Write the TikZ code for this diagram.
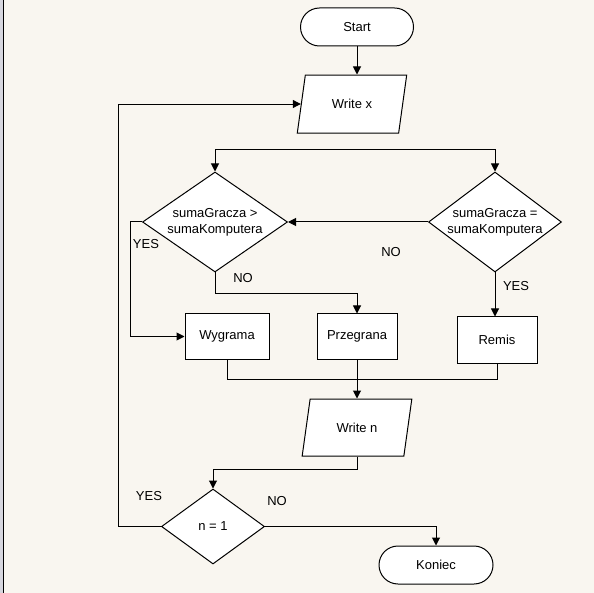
\documentclass[tikz,border=0pt]{standalone}
\usepackage{fontspec}
\setmainfont{Liberation Sans}
\usetikzlibrary{arrows.meta,positioning,calc,shapes.geometric}
\definecolor{paper}{RGB}{249,246,240}
\definecolor{chrome}{RGB}{214,214,222}

\begin{document}
\begin{tikzpicture}[
        x=1pt, y=1pt,
        font=\fontsize{13}{16}\selectfont,
        term/.style={draw, fill=white, line width=1pt, rounded corners=19pt, minimum width=113pt, minimum height=38pt},
        io/.style={draw, fill=white, line width=1pt, trapezium, trapezium left angle=76, trapezium right angle=104, trapezium stretches=true, minimum width=110pt, minimum height=58pt},
        box/.style={draw, fill=white, line width=1pt, minimum width=80pt, minimum height=45pt},
        cond/.style={draw, fill=white, line width=1pt, diamond, align=center, inner xsep=-8pt, inner ysep=0pt, minimum height=100pt},
        lbl/.style={inner sep=0pt},
        line/.style={-{Triangle[width=8pt,length=8pt]}, line width=1pt},
        wire/.style={line width=1pt},
    ]
        \useasboundingbox[fill=paper] (0,0) rectangle (594,-593);
        % window edge on the left
        \fill[chrome] (0,0) rectangle (3,-593);
        \draw[wire] (3.5,0) -- (3.5,-593);

        % --- nodes ---
        \node[term] (start) at (357,-27) {Start};
        \node[io, below=28pt of start, xshift=-5pt] (writex) {Write x};

        \node[cond, aspect=1.45, minimum width=145pt] (cmpL) at (215,-222) {sumaGracza >\\sumaKomputera};
        \node[cond, aspect=1.33, minimum width=133pt, right=140pt of cmpL] (cmpR) {sumaGracza =\\sumaKomputera};

        \node[box, minimum width=84pt, below=41pt of cmpL, xshift=12pt] (wygr) {Wygrama};
        \node[box, right=47pt of wygr] (przeg) {Przegrana};
        \node[box, minimum height=46pt, below=44pt of cmpR, xshift=2pt] (remis) {Remis};

        \node[io, minimum height=57pt, below=39pt of przeg] (writen) {Write n};
        \node[cond, aspect=1.37, minimum width=103pt, minimum height=75pt, below=32pt of writen, xshift=-144pt] (check) {n = 1};
        \node[term, minimum width=114pt] (koniec) at (436,-565) {Koniec};

        % --- wiring ---
        \draw[line] (start) -- (start |- writex.north);

        \coordinate[below=16pt of writex.south] (split);
        \draw[line] (split) -| (cmpL.north);
        \draw[line] (split) -| (cmpR.north);

        \draw[line] (cmpR.west) -- (cmpL.east);
        \draw[line] (cmpR.south) -- (cmpR.south |- remis.north);
        \draw[line] (cmpL.west) -- ++(-12pt,0) |- (wygr.west);
        \draw[line] (cmpL.south) -- ++(0,-21pt) -| (przeg.north);

        % three results join above Write n
        \coordinate (merge) at ($(przeg.south)!0.5!(writen.north)$);
        \draw[wire] (wygr.south) |- (merge);
        \draw[wire] (remis.south) |- (merge);
        \draw[line] (przeg.south) -- (writen.north);

        \draw[line] (writen.south) -- ++(0,-13pt) -| (check.north);
        \draw[line] (check.west) -- ++(-43pt,0) |- (writex.west);
        \draw[line] (check.east) -| (koniec.north);

        % --- branch labels ---
        \node[lbl] at (146,-244) {YES};
        \node[lbl] at (243,-278) {NO};
        \node[lbl] at (391,-252) {NO};
        \node[lbl] at (516,-286) {YES};
        \node[lbl] at (149,-496) {YES};
        \node[lbl] at (277,-501) {NO};
\end{tikzpicture}
\end{document}
